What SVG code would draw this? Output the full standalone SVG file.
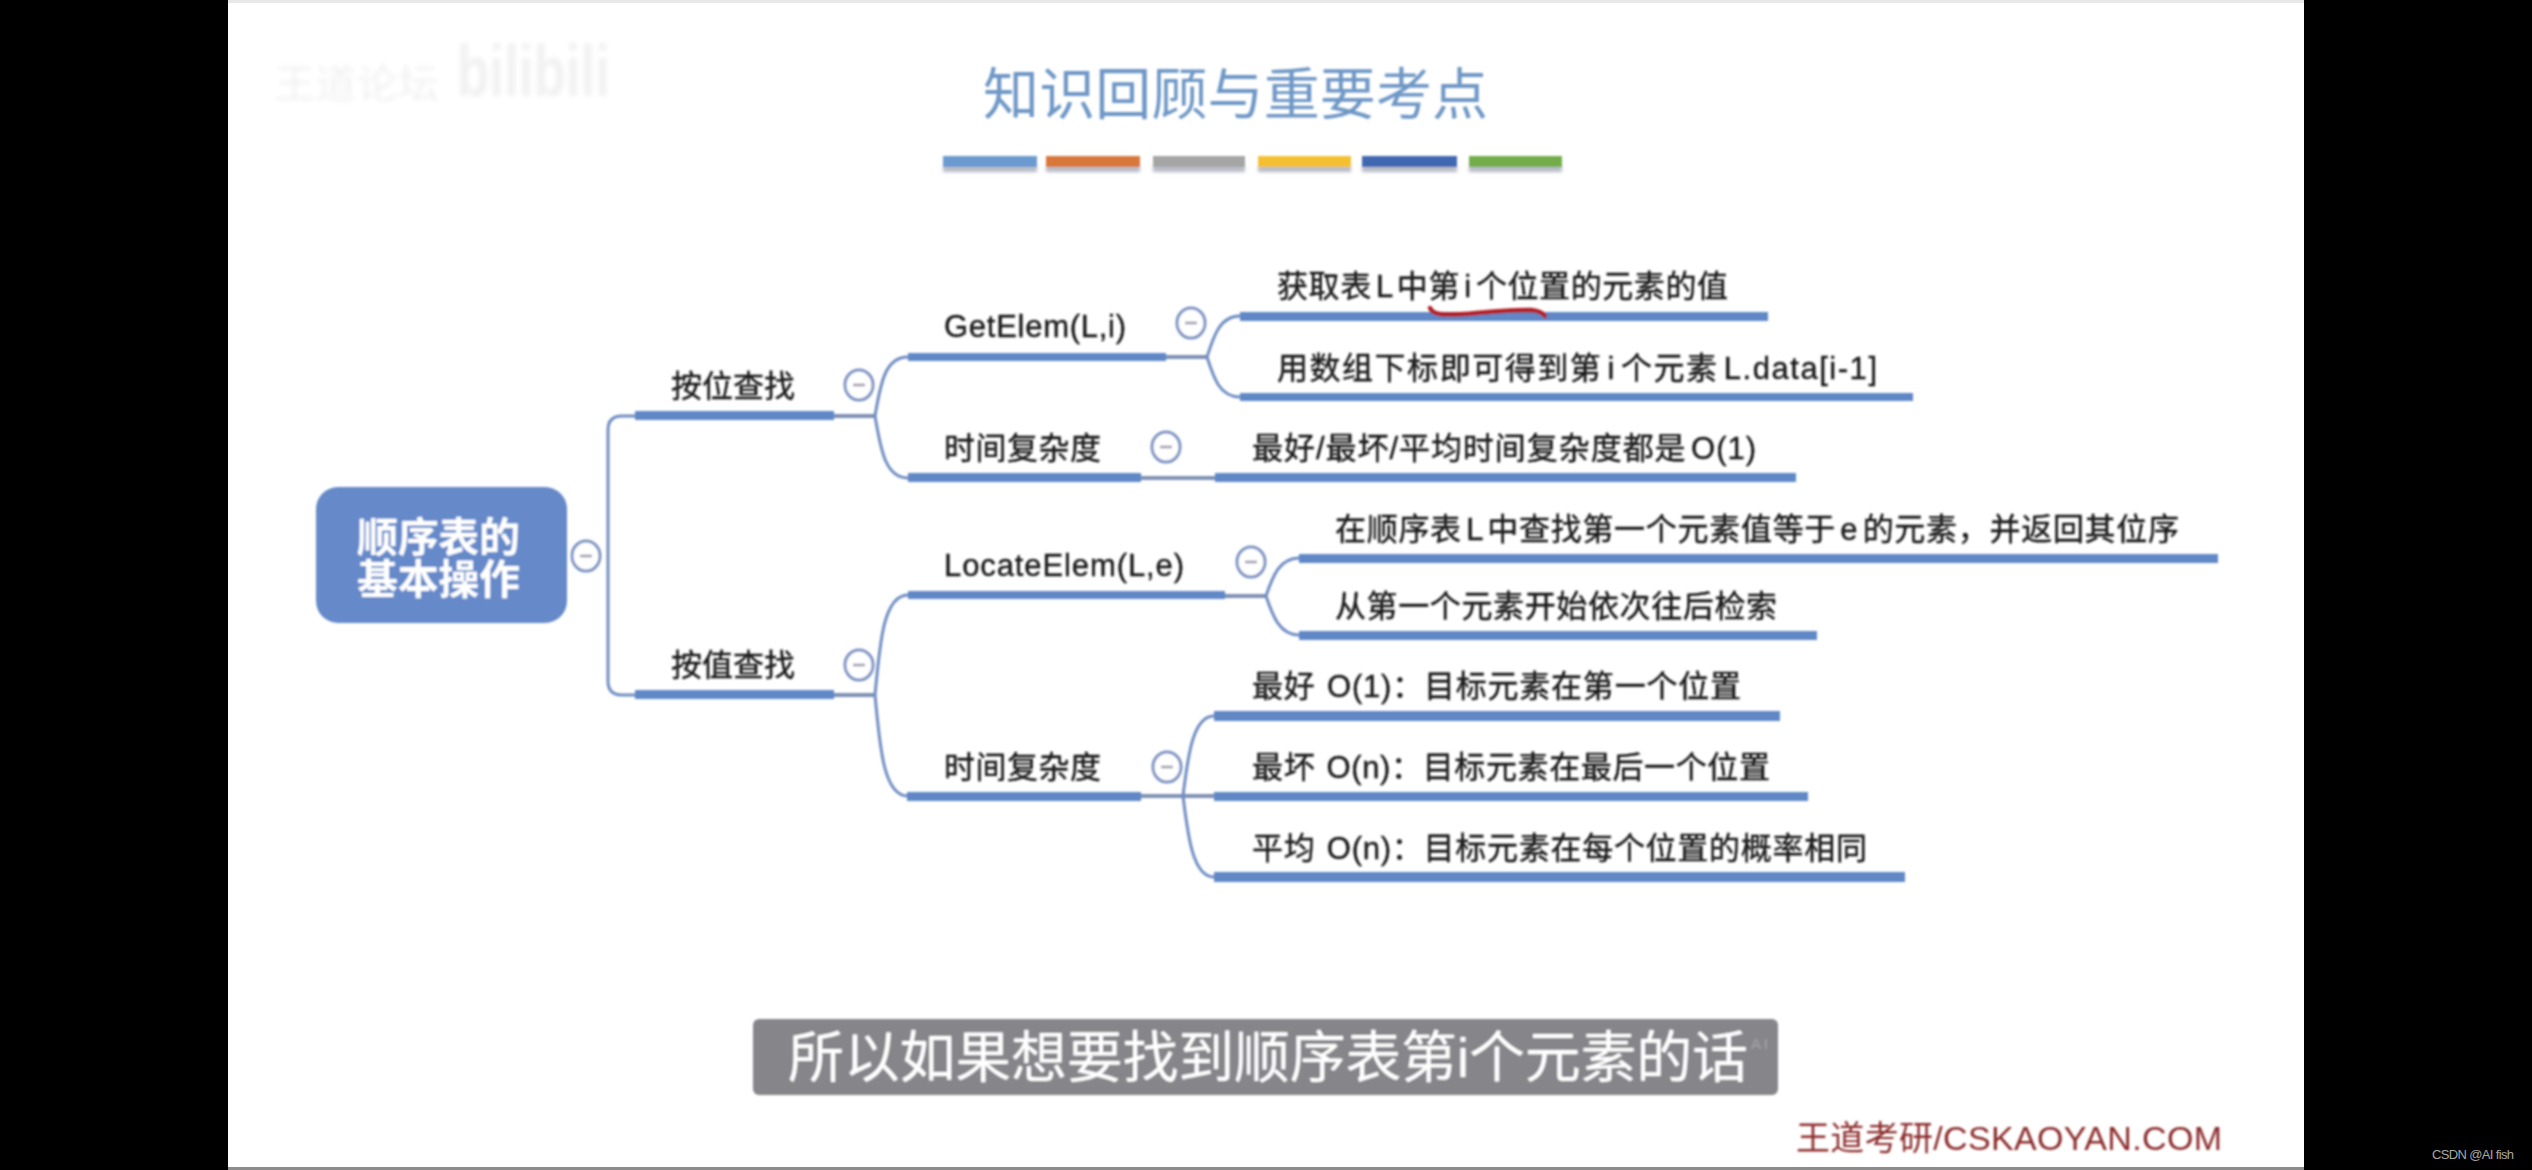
<svg xmlns="http://www.w3.org/2000/svg" width="2532" height="1170" viewBox="0 0 2532 1170">
<defs>
<filter id="soft" x="-5%" y="-5%" width="110%" height="110%"><feGaussianBlur stdDeviation="0.8"/></filter>
<filter id="blurB" x="-20%" y="-50%" width="140%" height="200%"><feGaussianBlur stdDeviation="1.6"/></filter>
<filter id="wm" x="-10%" y="-20%" width="120%" height="140%"><feGaussianBlur stdDeviation="2.2"/></filter>
</defs>
<style>
text{font-family:"Liberation Sans","Noto Sans CJK SC",sans-serif}
.lb{font-size:31px;fill:#161616;stroke:#161616;stroke-width:.35;word-spacing:-5px}
.wide{word-spacing:2px}
.bar{fill:#6088c6}
.con{fill:none;stroke:#6f8dc2;stroke-width:3}
.thin{fill:none;stroke:#7e90b4;stroke-width:4}
.tog{fill:#fff;stroke:#7c93c2;stroke-width:3}
.min{stroke:#9a95a8;stroke-width:2.5}
</style>
<rect width="2532" height="1170" fill="#000"/>
<rect x="228" y="3" width="2076" height="1164" fill="#fff"/>
<rect x="228" y="0" width="2076" height="3" fill="#e8e8e8"/>
<rect x="228" y="1167" width="2076" height="3" fill="#8c8c8c"/>
<g filter="url(#soft)">
<g id="watermark" filter="url(#wm)" fill="#f1f1f1">
<text x="274" y="98" font-size="40" textLength="165" lengthAdjust="spacingAndGlyphs">王道论坛</text>
<text x="457" y="96" font-size="72" font-weight="700" textLength="153" lengthAdjust="spacingAndGlyphs">bilibili</text>
</g>
<g id="title">
<text x="983" y="114" font-size="56" fill="#6e97c6" textLength="505">知识回顾与重要考点</text>
<g id="title-bars">
<g filter="url(#blurB)" fill="#b5b8c4">
<rect x="943" y="166" width="94" height="6"/><rect x="1046" y="166" width="94" height="6"/><rect x="1153" y="166" width="92" height="6"/><rect x="1258" y="166" width="93" height="6"/><rect x="1362" y="166" width="95" height="6"/><rect x="1469" y="166" width="93" height="6"/>
</g>
<rect x="943" y="156" width="94" height="11" fill="#6b9ad0"/>
<rect x="1046" y="156" width="94" height="11" fill="#d9773a"/>
<rect x="1153" y="156" width="92" height="11" fill="#a5a5a5"/>
<rect x="1258" y="156" width="93" height="11" fill="#f4c033"/>
<rect x="1362" y="156" width="95" height="11" fill="#3f68b2"/>
<rect x="1469" y="156" width="93" height="11" fill="#72ad4a"/>
</g>
</g>
<g id="connectors">
<path class="con" d="M635 416H622Q608 416 608 430V681Q608 695 622 695H635"/>
<path class="thin" d="M834 416H875"/>
<path class="con" d="M908 357C886 357 881 380 875 416C881 452 886 478 908 478"/>
<path class="thin" d="M834 695H875"/>
<path class="con" d="M908 595C884 595 880 640 875 695C880 750 884 796 908 796"/>
<path class="thin" d="M1166 357H1207"/>
<path class="con" d="M1240 316C1220 316 1214 335 1207 357C1214 379 1220 397 1240 397"/>
<path class="thin" d="M1141 478H1215"/>
<path class="thin" d="M1225 596H1266"/>
<path class="con" d="M1299 558C1280 558 1273 575 1266 596C1273 617 1280 635 1299 635"/>
<path class="thin" d="M1141 796H1214"/>
<path class="con" d="M1214 716C1193 716 1188 755 1183 796C1188 837 1193 877 1214 877"/>
</g>
<g id="root">
<rect x="316" y="487" width="251" height="136" rx="22" fill="#6589c9"/>
<text x="357" y="552" font-size="41" font-weight="700" fill="#fff" textLength="163">顺序表的</text>
<text x="357" y="594" font-size="41" font-weight="700" fill="#fff" textLength="163">基本操作</text>
<ellipse class="tog" cx="586" cy="556" rx="14" ry="15"/><path class="min" d="M580 556H592"/>
</g>
<g id="n-weizhi">
<rect class="bar" x="635" y="411" width="199" height="9"/>
<text class="lb" x="671" y="397" textLength="124">按位查找</text>
<ellipse class="tog" cx="859" cy="385" rx="14" ry="15"/><path class="min" d="M853 385H865"/>
</g>
<g id="n-getelem">
<rect class="bar" x="908" y="353" width="258" height="8"/>
<text class="lb" x="944" y="337" textLength="182">GetElem(L,i)</text>
<ellipse class="tog" cx="1191" cy="323" rx="14" ry="15"/><path class="min" d="M1185 323H1197"/>
</g>
<g id="n-get-1">
<rect class="bar" x="1240" y="312" width="528" height="9"/>
<text class="lb" x="1277" y="297" textLength="451">获取表 L 中第 i 个位置的元素的值</text>
</g>
<g id="n-get-2">
<rect class="bar" x="1240" y="393" width="673" height="8"/>
<text class="lb" x="1277" y="379" textLength="600">用数组下标即可得到第 i 个元素 L.data[i-1]</text>
</g>
<g id="n-time-1">
<rect class="bar" x="908" y="473" width="233" height="9"/>
<text class="lb" x="944" y="459" textLength="157">时间复杂度</text>
<ellipse class="tog" cx="1166" cy="447" rx="14" ry="15"/><path class="min" d="M1160 447H1172"/>
</g>
<g id="n-time-1a">
<rect class="bar" x="1215" y="473" width="581" height="9"/>
<text class="lb" x="1252" y="459" textLength="504">最好/最坏/平均时间复杂度都是 O(1)</text>
</g>
<g id="n-zhi">
<rect class="bar" x="635" y="690" width="199" height="9"/>
<text class="lb" x="671" y="676" textLength="124">按值查找</text>
<ellipse class="tog" cx="859" cy="665" rx="14" ry="15"/><path class="min" d="M853 665H865"/>
</g>
<g id="n-locate">
<rect class="bar" x="908" y="591" width="317" height="8"/>
<text class="lb" x="944" y="576" textLength="240">LocateElem(L,e)</text>
<ellipse class="tog" cx="1251" cy="562" rx="14" ry="15"/><path class="min" d="M1245 562H1257"/>
</g>
<g id="n-loc-1">
<rect class="bar" x="1299" y="554" width="919" height="9"/>
<text class="lb" x="1335" y="540" textLength="844">在顺序表 L 中查找第一个元素值等于 e 的元素，并返回其位序</text>
</g>
<g id="n-loc-2">
<rect class="bar" x="1299" y="631" width="518" height="9"/>
<text class="lb" x="1335" y="617" textLength="442">从第一个元素开始依次往后检索</text>
</g>
<g id="n-time-2">
<rect class="bar" x="907" y="792" width="234" height="9"/>
<text class="lb" x="944" y="778" textLength="157">时间复杂度</text>
<ellipse class="tog" cx="1167" cy="767" rx="14" ry="15"/><path class="min" d="M1161 767H1173"/>
</g>
<g id="n-best">
<rect class="bar" x="1214" y="711" width="566" height="10"/>
<text class="lb wide" x="1252" y="697" textLength="489">最好 O(1)：目标元素在第一个位置</text>
</g>
<g id="n-worst">
<rect class="bar" x="1214" y="792" width="594" height="9"/>
<text class="lb wide" x="1252" y="778" textLength="518">最坏 O(n)：目标元素在最后一个位置</text>
</g>
<g id="n-avg">
<rect class="bar" x="1214" y="872" width="691" height="10"/>
<text class="lb wide" x="1252" y="859" textLength="615">平均 O(n)：目标元素在每个位置的概率相同</text>
</g>
<path id="red-underline" d="M1430 308C1433 316 1447 315 1467 314C1487 312 1512 310 1531 310C1539 311 1543 313 1545 316" fill="none" stroke="#b21d22" stroke-width="4.5" stroke-linecap="round"/>
<g id="subtitle">
<rect x="753" y="1019" width="1025" height="76" rx="6" fill="#85858a"/>
<text x="788" y="1077" font-size="56" fill="#fff" textLength="960">所以如果想要找到顺序表第i个元素的话</text>
<text x="1751" y="1049" font-size="15" fill="#a5a5a9" textLength="17">AI</text>
</g>
<text id="brand" x="1796" y="1150" font-size="34" fill="#8b2c2c" textLength="426">王道考研/CSKAOYAN.COM</text>
</g>
<text id="csdn" x="2432" y="1159" font-size="13" fill="#a8a8a8" textLength="82">CSDN @AI fish</text>
</svg>
